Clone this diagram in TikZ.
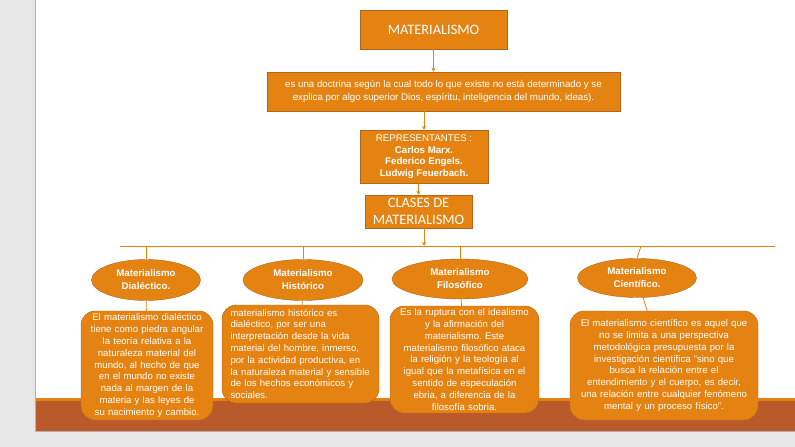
\documentclass[tikz,border=0pt]{standalone}
\usepackage{fontspec}
\setmainfont{Liberation Sans}
\newfontfamily\carlitofont{Carlito}
\usetikzlibrary{shapes.geometric,arrows.meta}
\hyphenpenalty=10000
\exhyphenpenalty=10000
\frenchspacing
\definecolor{org}{HTML}{E48312}
\definecolor{orgd}{HTML}{B0661A}
\definecolor{brn}{HTML}{BA5A2B}
\definecolor{bgg}{HTML}{E6E6E6}
\begin{document}
\begin{tikzpicture}[x=1pt,y=-1pt,
 box/.style={draw=orgd,fill=org,text=white,inner sep=1pt,align=center},
 ell/.style={ellipse,draw=orgd,fill=org,text=white,inner sep=0pt,align=center,font=\fontsize{9.7}{13}\selectfont\bfseries},
 rbox/.style={draw=orgd,fill=org,text=white,rounded corners=14pt,inner sep=2pt,font=\fontsize{9.6}{11.8}\selectfont},
 ln/.style={draw=org,line width=0.8pt},
 arr/.style={ln,-{Stealth[length=4pt,width=4pt]}}]
\useasboundingbox (0,0) rectangle (795,447);
\fill[bgg] (0,0) rectangle (795,447);
\fill[white] (35,0) rectangle (795,431);
\fill[org] (35,398) rectangle (795,402);
\fill[brn] (35,401) rectangle (795,431);
\draw[gray!60] (35,0) -- (35,431) -- (795,431);
\node[box,minimum width=147pt,minimum height=39pt,font=\carlitofont\fontsize{14.4}{16}\selectfont] (m) at (433.5,29.5) {MATERIALISMO};
\node[box,minimum width=353pt,minimum height=39pt,font=\fontsize{9.7}{12.5}\selectfont] (d) at (443.5,91.5) {es una doctrina según la cual todo lo que existe no está determinado y se\\explica por algo superior Dios, espíritu, inteligencia del mundo, ideas).};
\node[box,minimum width=128pt,minimum height=53pt,font=\fontsize{9.7}{11.6}\selectfont] (r) at (424,156.5) {REPRESENTANTES :\\\textbf{Carlos Marx.}\\\textbf{Federico Engels.}\\\textbf{Ludwig Feuerbach.}};
\node[box,minimum width=107pt,minimum height=33pt,font=\carlitofont\fontsize{14.4}{16.5}\selectfont] (c) at (418.5,211.5) {CLASES DE\\MATERIALISMO};
\draw[arr] (m.south) -- (m.south |- d.north);
\draw[arr] (d.south -| r.north) -- (r);
\draw[arr] (r.south -| c.north) -- (c);
\coordinate (h) at (424,246);
\draw[arr] (c.south -| h) -- (h);
\node[ell,minimum width=109pt,minimum height=41pt] (e1) at (146,280) {Materialismo\\Dialéctico.};
\node[ell,minimum width=120pt,minimum height=41pt] (e2) at (303,280) {Materialismo\\Histórico};
\node[ell,minimum width=136pt,minimum height=40pt] (e3) at (460,279) {Materialismo\\Filosófico};
\node[ell,minimum width=119pt,minimum height=39pt] (e4) at (637,278) {Materialismo\\Científico.};
\coordinate (hl) at (120,246); \coordinate (hr) at (775,246);
\draw[ln] (hl) -- (hr);
\draw[ln] (e1.north |- hl) -- (e1.north);
\draw[ln] (e2.north |- hl) -- (e2.north);
\draw[ln] (e3.north |- hl) -- (e3.north);
\draw[ln] (641,246) -- (e4.north);
\node[rbox,minimum width=132pt,minimum height=109pt,text width=116pt,align=center] (b1) at (147,365.5) {El materialismo dialéctico tiene como piedra angular la teoría relativa a la naturaleza material del mundo, al hecho de que en el mundo no existe nada al margen de la materia y las leyes de su nacimiento y cambio.};
\node[rbox,minimum width=157pt,minimum height=98pt,text width=140pt,align=left] (b2) at (300.5,354) {materialismo histórico es dialéctico, por ser una interpretación desde la vida material del hombre, inmerso, por la actividad productiva, en la naturaleza material y sensible de los hechos económicos y sociales.};
\node[rbox,minimum width=149pt,minimum height=107pt,text width=144pt,align=center] (b3) at (464.5,359.5) {Es la ruptura con el idealismo\\y la afirmación del\\materialismo. Este\\materialismo filosófico ataca\\la religión y la teología al\\igual que la metafísica en el\\sentido de especulación\\ebria, a diferencia de la\\filosofía sobria.};
\node[rbox,minimum width=188pt,minimum height=109pt,text width=184pt,align=center] (b4) at (664,365.5) {El materialismo científico es aquel que\\no se limita a una perspectiva\\metodológica presupuesta por la\\investigación científica "sino que\\busca la relación entre el\\entendimiento y el cuerpo, es decir,\\una relación entre cualquier fenómeno\\mental y un proceso físico".};
\draw[ln] (e1) -- (b1);
\draw[ln] (e2) -- (b2);
\draw[ln] (e3) -- (b3);
\draw[ln] (e4) -- (b4);
\end{tikzpicture}
\end{document}
